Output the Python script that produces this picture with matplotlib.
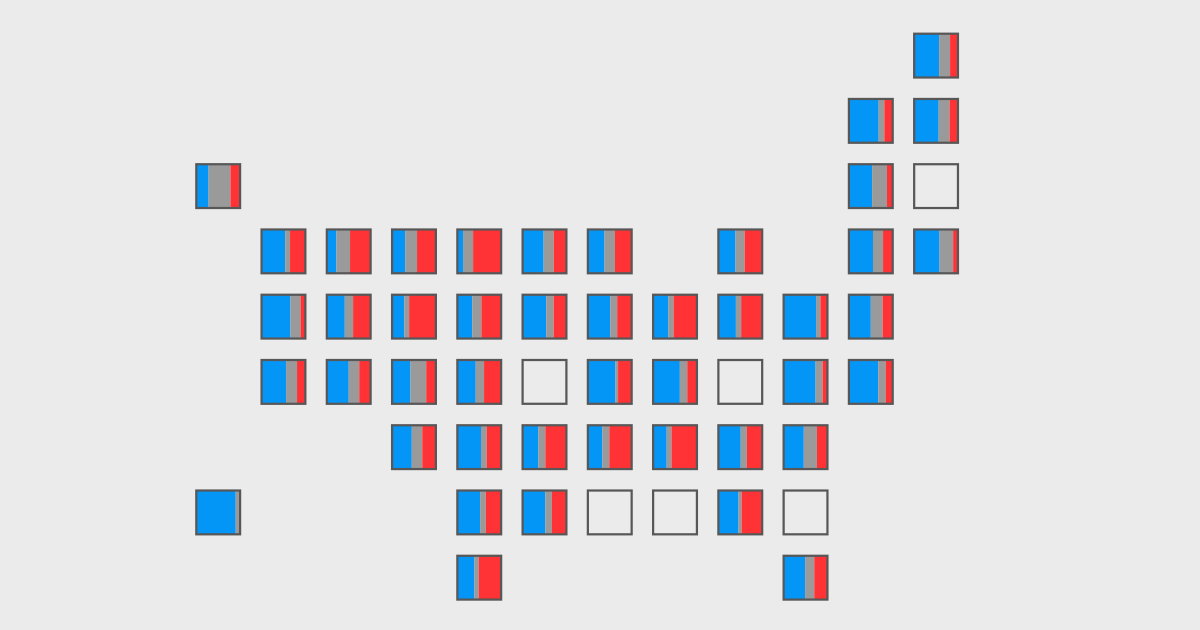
import matplotlib
matplotlib.use("Agg")
from matplotlib import pyplot as plt
import numpy as np

# tile position of each cell, then share of blue / gray in percent (red is the rest)
rows = [0, 1, 1, 2, 2,
        3, 3, 3, 3, 3, 3, 3, 3, 3,
        4, 4, 4, 4, 4, 4, 4, 4, 4, 4,
        5, 5, 5, 5, 5, 5, 5, 5,
        6, 6, 6, 6, 6, 6, 6,
        7, 7, 7, 7,
        8, 8]
cols = [11, 10, 11, 0, 10,
        1, 2, 3, 4, 5, 6, 8, 10, 11,
        1, 2, 3, 4, 5, 6, 7, 8, 9, 10,
        1, 2, 3, 4, 6, 7, 9, 10,
        3, 4, 5, 6, 7, 8, 9,
        0, 4, 5, 8,
        4, 9]
blue = [57, 68, 56, 28, 53,
        54, 22, 30, 13, 48, 38, 39, 55, 58,
        66, 41, 28, 34, 54, 51, 35, 40, 74, 50,
        56, 50, 42, 42, 63, 61, 73, 67,
        45, 54, 36, 33, 31, 51, 46,
        90, 52, 52, 46,
        39, 49]
gray = [25, 13, 25, 50, 34,
        11, 31, 27, 23, 23, 24, 21, 23, 31,
        23, 19, 11, 21, 17, 16, 12, 12, 10, 27,
        25, 24, 36, 19, 6, 17, 16, 17,
        24, 13, 16, 16, 11, 14, 30,
        10, 13, 15, 7,
        10, 21]
red = [18, 19, 19, 22, 13,
       35, 47, 43, 64, 29, 38, 40, 22, 11,
       11, 40, 61, 45, 29, 33, 53, 48, 16, 23,
       19, 26, 22, 39, 31, 22, 11, 16,
       31, 33, 48, 51, 58, 35, 24,
       0, 35, 33, 47,
       51, 30]

# tiles with no results
empty_rows = [2, 5, 5, 7, 7, 7]
empty_cols = [11, 5, 8, 6, 7, 9]

BG = "#ebebeb"
BLUE = "#0496f7"
GRAY = "#9a9a9a"
RED = "#ff3336"
EDGE = "#575757"

PITCH = 65.26
SIZE = 43.8 / PITCH

fig = plt.figure(figsize=(12, 6.3), dpi=100, facecolor=BG)
ax = fig.add_axes([0, 0, 1, 1], facecolor=BG)
ax.set_xlim(-196.3 / PITCH, (1200 - 196.3) / PITCH)
ax.set_ylim((630 - 33.7) / PITCH, -33.7 / PITCH)
ax.axis("off")

b = np.array(blue) / 100 * SIZE
g = np.array(gray) / 100 * SIZE
r = np.array(red) / 100 * SIZE
x = np.array(cols, dtype=float)
y = np.array(rows, dtype=float)

stacks = [
    ax.bar(x, SIZE, width=b, bottom=y, align="edge", color=BLUE, linewidth=0),
    ax.bar(x + b, SIZE, width=g, bottom=y, align="edge", color=GRAY, linewidth=0),
    ax.bar(x + b + g, SIZE, width=r, bottom=y, align="edge", color=RED, linewidth=0),
    # outlines go on top of the stacks
    ax.bar(list(cols) + empty_cols, SIZE, width=SIZE, bottom=list(rows) + empty_rows,
           align="edge", fill=False, edgecolor=EDGE, linewidth=1.6),
]
for s in stacks:
    for patch in s:
        patch.set_snap(False)

fig.savefig("out.png", dpi=100, facecolor=BG)
